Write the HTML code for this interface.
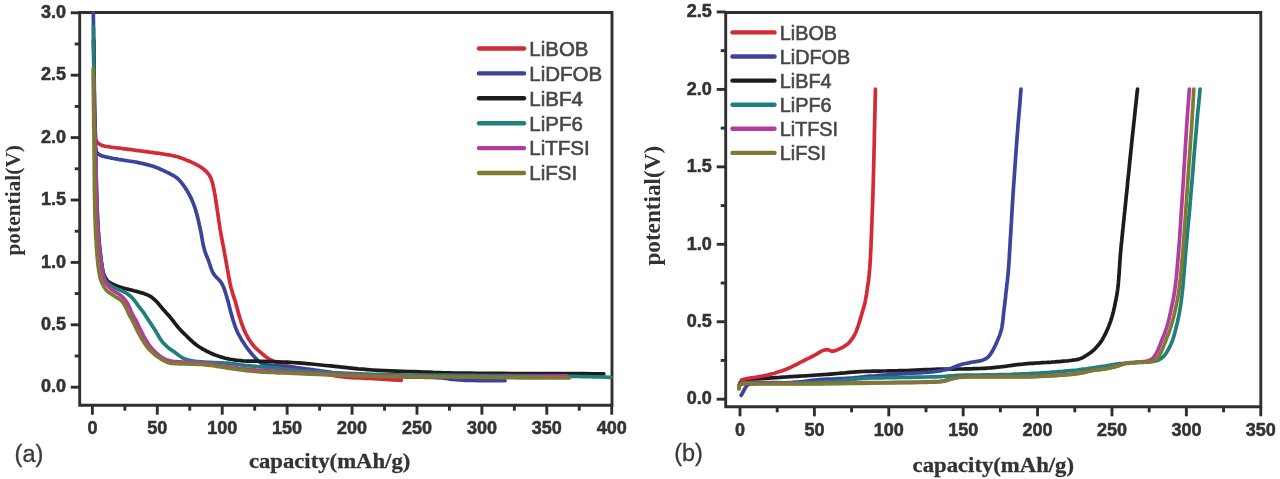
<!DOCTYPE html>
<html><head><meta charset="utf-8"><title>potential vs capacity</title>
<style>html,body{margin:0;padding:0;background:#fff;width:1280px;height:479px;overflow:hidden}svg{display:block;filter:blur(0.6px)}</style>
</head><body>
<svg width="1280" height="479" viewBox="0 0 1280 479">
<rect width="1280" height="479" fill="#fff"/>
<g stroke="#2f2f2f" stroke-width="2.9" fill="none">
<line x1="92.4" y1="405.2" x2="92.4" y2="414.7"/>
<line x1="157.31" y1="405.2" x2="157.31" y2="414.7"/>
<line x1="222.23" y1="405.2" x2="222.23" y2="414.7"/>
<line x1="287.14" y1="405.2" x2="287.14" y2="414.7"/>
<line x1="352.06" y1="405.2" x2="352.06" y2="414.7"/>
<line x1="416.98" y1="405.2" x2="416.98" y2="414.7"/>
<line x1="481.89" y1="405.2" x2="481.89" y2="414.7"/>
<line x1="546.81" y1="405.2" x2="546.81" y2="414.7"/>
<line x1="611.72" y1="405.2" x2="611.72" y2="414.7"/>
<line x1="124.86" y1="405.2" x2="124.86" y2="410.7"/>
<line x1="189.77" y1="405.2" x2="189.77" y2="410.7"/>
<line x1="254.69" y1="405.2" x2="254.69" y2="410.7"/>
<line x1="319.6" y1="405.2" x2="319.6" y2="410.7"/>
<line x1="384.52" y1="405.2" x2="384.52" y2="410.7"/>
<line x1="449.43" y1="405.2" x2="449.43" y2="410.7"/>
<line x1="514.35" y1="405.2" x2="514.35" y2="410.7"/>
<line x1="579.26" y1="405.2" x2="579.26" y2="410.7"/>
<line x1="70.7" y1="387.2" x2="79.7" y2="387.2"/>
<line x1="70.7" y1="324.8" x2="79.7" y2="324.8"/>
<line x1="70.7" y1="262.4" x2="79.7" y2="262.4"/>
<line x1="70.7" y1="200.0" x2="79.7" y2="200.0"/>
<line x1="70.7" y1="137.6" x2="79.7" y2="137.6"/>
<line x1="70.7" y1="75.2" x2="79.7" y2="75.2"/>
<line x1="70.7" y1="12.8" x2="79.7" y2="12.8"/>
<line x1="74.7" y1="356.0" x2="79.7" y2="356.0"/>
<line x1="74.7" y1="293.6" x2="79.7" y2="293.6"/>
<line x1="74.7" y1="231.2" x2="79.7" y2="231.2"/>
<line x1="74.7" y1="168.8" x2="79.7" y2="168.8"/>
<line x1="74.7" y1="106.4" x2="79.7" y2="106.4"/>
<line x1="74.7" y1="44.0" x2="79.7" y2="44.0"/>
<path d="M79.7,12.5 L612,12.5 L612,405.2 L79.7,405.2 Z" fill="none" stroke-linejoin="miter"/>
</g>
<g fill="none" stroke-width="3.7" stroke-linecap="round" stroke-linejoin="round">
<path stroke="#d42a35" d="M93.6,40.0 L93.7,47.6 L93.8,55.4 L93.8,63.3 L93.9,71.2 L94.0,78.9 L94.1,86.3 L94.2,93.4 L94.3,100.0 L94.4,104.6 L94.5,109.2 L94.6,113.6 L94.7,117.9 L94.8,121.9 L94.9,125.6 L95.1,129.0 L95.3,132.0 L95.4,133.4 L95.5,134.7 L95.5,136.0 L95.6,137.1 L95.7,138.2 L95.9,139.2 L96.1,140.1 L96.5,141.0 L96.9,141.7 L97.3,142.3 L97.8,142.8 L98.4,143.3 L99.0,143.8 L99.6,144.2 L100.3,144.6 L101.0,145.0 L101.9,145.4 L103.0,145.7 L104.1,146.0 L105.2,146.3 L106.4,146.5 L107.6,146.6 L108.8,146.8 L110.0,147.0 L111.2,147.2 L112.4,147.4 L113.6,147.5 L114.8,147.6 L116.0,147.8 L117.3,147.9 L118.6,148.0 L120.0,148.2 L122.0,148.5 L124.2,148.8 L126.5,149.1 L128.8,149.4 L131.2,149.7 L133.6,150.0 L136.1,150.4 L138.5,150.7 L141.1,151.0 L143.8,151.4 L146.6,151.7 L149.3,152.1 L152.1,152.4 L154.8,152.8 L157.4,153.1 L160.0,153.5 L162.2,153.8 L164.4,154.2 L166.7,154.6 L168.8,154.9 L170.9,155.3 L172.9,155.7 L174.8,156.1 L176.5,156.5 L177.6,156.8 L178.5,157.1 L179.4,157.4 L180.3,157.6 L181.1,158.0 L181.9,158.3 L182.8,158.6 L183.8,159.0 L185.1,159.5 L186.5,160.1 L188.0,160.7 L189.5,161.3 L191.0,161.9 L192.5,162.6 L193.9,163.3 L195.3,164.0 L196.5,164.7 L197.8,165.3 L199.0,166.0 L200.2,166.8 L201.3,167.5 L202.4,168.3 L203.5,169.1 L204.5,169.9 L205.3,170.7 L206.2,171.5 L206.9,172.3 L207.7,173.1 L208.4,173.9 L209.0,174.8 L209.6,175.8 L210.2,176.8 L210.8,178.0 L211.3,179.3 L211.8,180.7 L212.2,182.1 L212.6,183.6 L213.0,185.1 L213.3,186.7 L213.7,188.3 L214.2,190.6 L214.6,193.0 L215.1,195.6 L215.5,198.2 L215.9,200.9 L216.3,203.6 L216.7,206.3 L217.1,209.0 L217.5,211.8 L218.0,214.7 L218.4,217.7 L218.8,220.6 L219.3,223.5 L219.7,226.4 L220.1,229.3 L220.6,232.0 L221.0,234.4 L221.4,236.7 L221.9,239.0 L222.3,241.2 L222.7,243.4 L223.2,245.6 L223.6,247.8 L224.0,250.0 L224.4,252.0 L224.7,254.0 L225.1,256.0 L225.4,257.9 L225.8,259.9 L226.1,261.9 L226.5,263.9 L226.9,266.0 L227.3,268.5 L227.8,271.0 L228.2,273.7 L228.7,276.3 L229.2,279.0 L229.7,281.6 L230.2,284.2 L230.8,286.7 L231.4,288.9 L232.0,291.0 L232.6,293.1 L233.2,295.1 L233.9,297.2 L234.5,299.2 L235.2,301.2 L235.8,303.3 L236.4,305.4 L237.0,307.5 L237.5,309.6 L238.1,311.8 L238.7,313.9 L239.2,315.9 L239.9,318.0 L240.5,320.0 L241.1,321.8 L241.7,323.7 L242.4,325.5 L243.1,327.2 L243.7,329.0 L244.5,330.7 L245.2,332.4 L246.0,334.0 L246.8,335.5 L247.6,336.9 L248.4,338.4 L249.3,339.8 L250.1,341.1 L251.1,342.5 L252.0,343.8 L253.0,345.0 L254.0,346.2 L255.0,347.3 L256.1,348.3 L257.2,349.4 L258.3,350.4 L259.5,351.4 L260.6,352.4 L261.7,353.3 L262.7,354.2 L263.7,355.0 L264.6,355.8 L265.6,356.6 L266.6,357.4 L267.7,358.1 L268.8,358.8 L270.0,359.5 L271.6,360.3 L273.4,361.1 L275.2,361.8 L277.2,362.5 L279.1,363.2 L281.1,363.8 L283.1,364.4 L285.0,365.0 L286.8,365.5 L288.6,366.0 L290.3,366.4 L292.0,366.8 L293.8,367.2 L295.7,367.6 L297.8,368.0 L300.0,368.5 L304.1,369.4 L308.8,370.4 L313.8,371.6 L319.1,372.7 L324.5,373.8 L329.9,374.9 L335.1,375.8 L340.0,376.5 L343.9,377.0 L347.8,377.3 L351.5,377.6 L355.2,377.8 L358.9,378.0 L362.5,378.1 L366.2,378.3 L370.0,378.5 L373.9,378.7 L377.8,379.0 L381.7,379.2 L385.6,379.4 L389.5,379.6 L393.5,379.9 L397.4,380.1 L401.3,380.3"/>
<path stroke="#3a449c" d="M93.3,12.8 L93.4,21.2 L93.5,29.7 L93.6,38.2 L93.7,46.6 L93.9,55.1 L94.0,63.5 L94.1,71.8 L94.2,80.0 L94.3,88.0 L94.4,96.3 L94.4,104.8 L94.5,113.1 L94.6,121.0 L94.8,128.3 L94.9,134.7 L95.2,140.0 L95.3,142.0 L95.4,143.9 L95.4,145.6 L95.5,147.1 L95.6,148.6 L95.8,149.8 L96.1,151.0 L96.5,152.0 L96.8,152.5 L97.2,153.0 L97.6,153.4 L98.0,153.8 L98.4,154.1 L98.9,154.4 L99.4,154.7 L100.0,155.0 L101.0,155.5 L102.1,155.9 L103.3,156.2 L104.6,156.6 L106.0,156.9 L107.4,157.2 L108.7,157.5 L110.0,157.8 L111.2,158.1 L112.4,158.3 L113.6,158.5 L114.8,158.7 L116.0,158.9 L117.3,159.1 L118.6,159.4 L120.0,159.6 L122.0,159.9 L124.3,160.3 L126.6,160.6 L129.0,161.0 L131.4,161.3 L133.8,161.7 L136.2,162.1 L138.5,162.6 L140.6,163.1 L142.8,163.5 L144.9,164.1 L147.0,164.6 L149.0,165.1 L151.1,165.7 L153.1,166.3 L155.0,167.0 L156.7,167.6 L158.4,168.3 L160.0,169.0 L161.6,169.7 L163.2,170.4 L164.7,171.1 L166.2,171.9 L167.7,172.6 L169.0,173.2 L170.2,173.9 L171.4,174.5 L172.6,175.1 L173.8,175.8 L174.9,176.5 L176.0,177.2 L177.0,178.0 L178.0,178.9 L178.9,179.8 L179.8,180.7 L180.7,181.7 L181.6,182.8 L182.4,183.8 L183.2,184.9 L184.0,186.0 L184.8,187.2 L185.6,188.4 L186.4,189.6 L187.2,190.8 L187.9,192.1 L188.6,193.4 L189.3,194.7 L190.0,196.0 L190.7,197.4 L191.4,198.8 L192.0,200.2 L192.6,201.7 L193.3,203.2 L193.8,204.7 L194.4,206.3 L195.0,208.0 L195.7,210.2 L196.3,212.5 L197.0,214.8 L197.6,217.3 L198.2,219.8 L198.8,222.3 L199.3,224.9 L199.9,227.4 L200.5,230.2 L201.1,233.1 L201.6,236.2 L202.2,239.2 L202.7,242.1 L203.3,245.0 L203.9,247.6 L204.5,250.0 L204.9,251.4 L205.4,252.8 L205.9,254.0 L206.3,255.2 L206.8,256.3 L207.3,257.5 L207.8,258.7 L208.3,260.0 L208.9,261.6 L209.4,263.3 L210.0,265.0 L210.5,266.7 L211.1,268.4 L211.8,270.1 L212.5,271.8 L213.3,273.3 L214.2,274.7 L215.2,275.9 L216.3,277.1 L217.5,278.3 L218.7,279.5 L219.8,280.7 L220.8,281.9 L221.7,283.3 L222.5,284.8 L223.2,286.4 L223.9,288.0 L224.5,289.6 L225.0,291.3 L225.6,293.0 L226.1,294.8 L226.7,296.7 L227.4,299.2 L228.2,301.9 L228.9,304.7 L229.6,307.5 L230.3,310.4 L231.1,313.2 L231.8,315.8 L232.5,318.3 L233.0,320.1 L233.6,321.7 L234.1,323.3 L234.6,324.9 L235.1,326.4 L235.7,327.9 L236.3,329.4 L237.0,331.0 L237.8,332.8 L238.7,334.5 L239.7,336.3 L240.7,338.1 L241.7,339.9 L242.8,341.6 L243.9,343.3 L245.0,345.0 L246.2,346.7 L247.4,348.4 L248.7,350.0 L249.9,351.7 L251.2,353.3 L252.5,354.8 L253.8,356.2 L255.0,357.5 L255.8,358.4 L256.6,359.2 L257.3,360.0 L258.1,360.8 L258.9,361.5 L259.7,362.1 L260.6,362.7 L261.7,363.3 L263.5,364.0 L265.6,364.5 L267.8,364.9 L270.2,365.2 L272.7,365.5 L275.2,365.7 L277.7,365.9 L280.0,366.2 L282.2,366.5 L284.5,366.7 L286.7,366.9 L289.0,367.1 L291.2,367.2 L293.3,367.4 L295.5,367.6 L297.5,367.8 L299.2,368.0 L300.7,368.2 L302.3,368.4 L303.8,368.6 L305.3,368.8 L306.8,369.0 L308.4,369.2 L310.0,369.4 L311.8,369.6 L313.6,369.9 L315.4,370.2 L317.3,370.4 L319.2,370.7 L321.1,371.0 L323.0,371.2 L325.0,371.5 L327.3,371.8 L329.6,372.1 L331.8,372.5 L334.2,372.8 L336.6,373.1 L339.2,373.4 L342.0,373.7 L345.0,374.0 L350.6,374.4 L357.0,374.9 L364.0,375.2 L371.3,375.6 L378.8,376.0 L386.2,376.3 L393.4,376.5 L400.0,376.8 L405.5,377.0 L411.0,377.1 L416.5,377.2 L421.9,377.2 L427.0,377.3 L431.8,377.4 L436.2,377.6 L440.0,377.8 L441.8,378.0 L443.5,378.1 L445.0,378.3 L446.4,378.5 L447.8,378.7 L449.1,378.9 L450.5,379.1 L452.0,379.3 L453.5,379.5 L455.0,379.6 L456.5,379.7 L458.0,379.9 L459.6,380.0 L461.2,380.1 L463.0,380.2 L465.0,380.3 L469.0,380.4 L473.5,380.5 L478.4,380.6 L483.6,380.6 L489.0,380.6 L494.5,380.6 L499.9,380.7 L505.0,380.7"/>
<path stroke="#1c1c1c" d="M93.6,40.0 L93.7,50.2 L93.8,60.6 L93.9,71.2 L94.0,81.7 L94.2,92.0 L94.3,101.9 L94.4,111.3 L94.6,120.0 L94.7,125.6 L94.9,130.9 L95.0,135.8 L95.2,140.6 L95.3,145.3 L95.5,150.0 L95.6,154.9 L95.8,160.0 L96.0,166.1 L96.1,172.4 L96.3,178.9 L96.4,185.4 L96.6,191.9 L96.8,198.3 L97.0,204.3 L97.2,210.0 L97.4,214.2 L97.6,218.2 L97.8,222.1 L98.0,225.9 L98.2,229.5 L98.5,233.1 L98.7,236.6 L99.0,240.0 L99.2,242.7 L99.5,245.4 L99.7,248.0 L100.0,250.5 L100.3,253.0 L100.6,255.4 L100.9,257.7 L101.2,260.0 L101.4,261.8 L101.7,263.5 L101.9,265.2 L102.1,266.9 L102.4,268.5 L102.7,270.1 L103.1,271.6 L103.5,273.0 L103.9,274.2 L104.3,275.3 L104.8,276.4 L105.3,277.5 L105.8,278.5 L106.3,279.4 L106.9,280.3 L107.5,281.0 L108.0,281.5 L108.5,281.9 L109.1,282.3 L109.6,282.6 L110.2,282.9 L110.8,283.2 L111.4,283.5 L112.0,283.8 L112.7,284.2 L113.5,284.5 L114.3,284.9 L115.1,285.2 L115.9,285.6 L116.7,285.9 L117.5,286.2 L118.3,286.5 L119.1,286.8 L119.9,287.1 L120.7,287.3 L121.5,287.5 L122.4,287.8 L123.2,288.0 L124.1,288.3 L125.0,288.5 L126.1,288.8 L127.3,289.1 L128.6,289.4 L129.8,289.7 L131.1,290.0 L132.4,290.3 L133.7,290.7 L135.0,291.0 L136.4,291.4 L137.8,291.8 L139.3,292.2 L140.8,292.6 L142.2,293.0 L143.6,293.4 L144.8,293.9 L146.0,294.3 L146.7,294.6 L147.4,294.9 L148.0,295.2 L148.6,295.4 L149.2,295.7 L149.8,296.1 L150.4,296.4 L151.0,296.8 L151.7,297.3 L152.4,297.8 L153.1,298.4 L153.8,298.9 L154.5,299.6 L155.2,300.2 L155.8,300.8 L156.5,301.5 L157.2,302.2 L157.9,303.0 L158.5,303.8 L159.2,304.6 L159.9,305.4 L160.6,306.3 L161.3,307.1 L162.0,308.0 L162.9,309.1 L163.9,310.1 L164.9,311.2 L165.9,312.4 L166.9,313.5 L168.0,314.7 L169.0,315.8 L170.0,317.0 L171.0,318.3 L172.1,319.6 L173.1,321.0 L174.2,322.3 L175.2,323.7 L176.3,325.0 L177.3,326.3 L178.3,327.5 L179.1,328.5 L179.9,329.3 L180.7,330.2 L181.5,331.0 L182.3,331.9 L183.2,332.7 L184.1,333.6 L185.0,334.5 L186.3,335.7 L187.6,337.1 L189.0,338.4 L190.5,339.8 L192.0,341.2 L193.5,342.6 L195.0,343.8 L196.5,345.0 L197.9,346.0 L199.4,347.0 L200.9,347.9 L202.4,348.8 L204.0,349.7 L205.5,350.5 L206.9,351.3 L208.4,352.0 L209.6,352.6 L210.8,353.2 L212.0,353.7 L213.2,354.2 L214.3,354.7 L215.5,355.1 L216.7,355.6 L218.0,356.0 L219.4,356.5 L220.9,356.9 L222.3,357.4 L223.8,357.8 L225.3,358.2 L226.9,358.5 L228.4,358.9 L230.0,359.2 L231.8,359.5 L233.5,359.8 L235.4,360.1 L237.2,360.3 L239.1,360.5 L241.0,360.7 L242.8,360.9 L244.7,361.0 L246.5,361.1 L248.3,361.2 L250.1,361.2 L251.9,361.2 L253.8,361.2 L255.7,361.2 L257.8,361.2 L260.0,361.3 L263.9,361.4 L268.2,361.5 L272.9,361.7 L277.7,361.8 L282.7,362.0 L287.7,362.2 L292.7,362.5 L297.5,362.8 L302.2,363.1 L306.9,363.6 L311.6,364.0 L316.3,364.5 L320.9,365.0 L325.6,365.5 L330.3,365.9 L335.0,366.4 L339.7,366.9 L344.3,367.3 L348.9,367.8 L353.5,368.3 L358.1,368.8 L362.8,369.2 L367.6,369.6 L372.5,370.0 L378.2,370.4 L384.1,370.7 L390.2,370.9 L396.3,371.1 L402.5,371.3 L408.5,371.5 L414.4,371.7 L420.0,371.9 L424.6,372.1 L428.9,372.2 L433.0,372.4 L437.2,372.5 L441.3,372.7 L445.6,372.8 L450.1,372.9 L455.0,373.0 L462.1,373.1 L469.7,373.2 L477.5,373.3 L485.7,373.3 L494.1,373.4 L502.7,373.4 L511.3,373.5 L520.0,373.5 L530.0,373.6 L540.2,373.6 L550.6,373.6 L561.2,373.7 L571.9,373.7 L582.6,373.7 L593.3,373.8 L603.8,373.8"/>
<path stroke="#1f7f7a" d="M93.5,27.0 L93.6,38.9 L93.7,51.2 L93.8,63.6 L93.9,75.9 L94.1,88.0 L94.2,99.5 L94.3,110.2 L94.5,120.0 L94.6,125.8 L94.8,131.1 L94.9,136.0 L95.1,140.8 L95.2,145.4 L95.4,150.1 L95.5,154.9 L95.7,160.0 L95.9,166.1 L96.0,172.4 L96.1,178.9 L96.3,185.4 L96.4,191.9 L96.6,198.3 L96.8,204.3 L97.0,210.0 L97.2,214.2 L97.4,218.2 L97.6,222.1 L97.8,225.9 L98.0,229.5 L98.3,233.1 L98.5,236.6 L98.8,240.0 L99.0,242.7 L99.3,245.4 L99.6,248.0 L99.8,250.5 L100.1,253.0 L100.4,255.4 L100.7,257.7 L101.0,260.0 L101.2,261.8 L101.5,263.5 L101.7,265.2 L102.0,266.9 L102.3,268.5 L102.5,270.0 L102.9,271.5 L103.2,273.0 L103.5,274.2 L103.7,275.3 L104.0,276.5 L104.3,277.5 L104.6,278.6 L105.0,279.6 L105.4,280.6 L106.0,281.5 L106.8,282.4 L107.7,283.3 L108.6,284.1 L109.7,284.9 L110.8,285.6 L111.9,286.3 L113.0,286.9 L114.0,287.5 L114.8,287.9 L115.5,288.3 L116.3,288.6 L117.0,288.9 L117.8,289.1 L118.5,289.4 L119.3,289.7 L120.0,290.0 L120.8,290.4 L121.5,290.7 L122.3,291.1 L123.1,291.5 L123.9,291.8 L124.6,292.2 L125.3,292.6 L126.0,293.0 L126.6,293.3 L127.1,293.7 L127.6,294.0 L128.1,294.3 L128.6,294.7 L129.1,295.1 L129.5,295.4 L130.0,295.8 L130.4,296.2 L130.9,296.6 L131.3,297.0 L131.7,297.4 L132.1,297.8 L132.5,298.2 L133.0,298.7 L133.4,299.2 L134.0,299.9 L134.6,300.7 L135.2,301.5 L135.9,302.4 L136.5,303.3 L137.1,304.2 L137.8,305.0 L138.4,305.9 L139.0,306.7 L139.7,307.5 L140.3,308.4 L141.0,309.2 L141.6,310.0 L142.2,310.8 L142.9,311.6 L143.5,312.5 L144.1,313.4 L144.7,314.3 L145.3,315.2 L145.9,316.1 L146.5,317.1 L147.1,318.0 L147.8,319.0 L148.4,320.0 L149.2,321.2 L150.0,322.4 L150.8,323.6 L151.7,324.9 L152.5,326.2 L153.4,327.5 L154.2,328.7 L155.0,330.0 L155.8,331.3 L156.5,332.6 L157.3,333.9 L158.1,335.2 L158.8,336.5 L159.5,337.8 L160.3,338.9 L161.0,340.0 L161.5,340.7 L162.1,341.4 L162.6,342.1 L163.1,342.7 L163.7,343.3 L164.2,343.9 L164.7,344.4 L165.3,345.0 L165.9,345.5 L166.4,346.1 L167.0,346.6 L167.6,347.1 L168.2,347.6 L168.8,348.1 L169.4,348.5 L170.0,349.0 L170.6,349.4 L171.2,349.8 L171.7,350.2 L172.3,350.6 L172.9,351.0 L173.5,351.4 L174.1,351.8 L174.8,352.3 L175.7,353.0 L176.7,353.7 L177.7,354.5 L178.7,355.2 L179.7,356.0 L180.8,356.7 L181.8,357.4 L182.9,358.0 L183.9,358.5 L184.8,358.9 L185.8,359.2 L186.8,359.5 L187.8,359.8 L188.8,360.1 L189.9,360.4 L190.9,360.6 L192.0,360.8 L193.1,361.0 L194.2,361.2 L195.3,361.3 L196.4,361.5 L197.5,361.6 L198.7,361.7 L200.0,361.8 L201.7,361.9 L203.5,362.1 L205.3,362.2 L207.3,362.3 L209.2,362.3 L211.2,362.4 L213.1,362.5 L215.0,362.6 L216.9,362.7 L218.8,362.8 L220.6,362.9 L222.5,362.9 L224.4,363.0 L226.3,363.1 L228.1,363.2 L230.0,363.4 L231.8,363.6 L233.5,363.8 L235.2,364.0 L237.0,364.3 L238.7,364.5 L240.6,364.8 L242.6,365.0 L244.7,365.3 L248.5,365.7 L252.7,366.1 L257.3,366.5 L262.0,366.9 L266.8,367.3 L271.5,367.7 L276.0,368.1 L280.0,368.5 L282.7,368.8 L285.3,369.0 L287.7,369.3 L290.1,369.5 L292.5,369.8 L294.8,370.0 L297.3,370.3 L300.0,370.5 L303.4,370.8 L306.9,371.0 L310.5,371.3 L314.1,371.6 L317.9,371.8 L321.8,372.0 L325.8,372.3 L330.0,372.5 L335.6,372.8 L341.4,373.1 L347.4,373.4 L353.6,373.7 L359.9,373.9 L366.5,374.2 L373.2,374.4 L380.0,374.6 L388.7,374.8 L397.8,374.9 L407.2,375.0 L416.9,375.1 L426.6,375.1 L436.3,375.2 L445.8,375.2 L455.0,375.3 L463.4,375.4 L471.8,375.4 L480.2,375.5 L488.5,375.6 L496.7,375.6 L504.6,375.7 L512.4,375.7 L520.0,375.8 L526.1,375.8 L532.1,375.9 L537.9,375.9 L543.5,376.0 L549.1,376.0 L554.7,376.1 L560.3,376.1 L566.0,376.2 L571.6,376.3 L577.3,376.4 L582.9,376.6 L588.5,376.7 L594.1,376.9 L599.8,377.0 L605.4,377.2 L611.0,377.3"/>
<path stroke="#b43c9e" d="M93.6,78.0 L93.7,83.3 L93.8,88.5 L93.9,93.8 L94.0,99.1 L94.1,104.3 L94.2,109.6 L94.3,114.8 L94.4,120.0 L94.5,125.0 L94.7,130.0 L94.8,134.9 L94.9,139.8 L95.1,144.7 L95.2,149.7 L95.4,154.8 L95.5,160.0 L95.7,166.1 L95.8,172.4 L95.9,178.9 L96.1,185.4 L96.2,191.9 L96.4,198.3 L96.6,204.3 L96.8,210.0 L97.0,214.2 L97.2,218.2 L97.4,222.1 L97.6,225.9 L97.8,229.5 L98.0,233.1 L98.2,236.6 L98.5,240.0 L98.7,242.7 L99.0,245.4 L99.2,248.0 L99.5,250.5 L99.8,253.0 L100.0,255.4 L100.3,257.7 L100.6,260.0 L100.8,261.8 L101.1,263.5 L101.3,265.2 L101.5,266.9 L101.8,268.5 L102.0,270.0 L102.3,271.6 L102.6,273.0 L102.8,274.1 L103.0,275.2 L103.2,276.2 L103.5,277.2 L103.7,278.1 L104.0,279.1 L104.4,280.0 L104.8,281.0 L105.4,282.1 L106.1,283.2 L106.9,284.4 L107.7,285.5 L108.6,286.6 L109.6,287.6 L110.5,288.6 L111.5,289.5 L112.5,290.3 L113.5,291.0 L114.6,291.6 L115.7,292.3 L116.8,292.9 L117.8,293.5 L118.8,294.1 L119.8,294.8 L120.6,295.5 L121.4,296.2 L122.2,296.9 L122.9,297.6 L123.6,298.3 L124.3,299.0 L125.0,299.8 L125.6,300.6 L126.2,301.4 L126.7,302.3 L127.3,303.1 L127.8,304.0 L128.2,304.9 L128.7,305.8 L129.2,306.7 L129.6,307.6 L130.0,308.5 L130.4,309.5 L130.8,310.4 L131.2,311.4 L131.6,312.3 L132.0,313.3 L132.4,314.2 L132.8,315.0 L133.2,315.7 L133.5,316.3 L133.9,316.9 L134.3,317.5 L134.6,318.0 L135.0,318.6 L135.4,319.3 L135.8,320.0 L136.4,321.1 L136.9,322.2 L137.5,323.5 L138.1,324.8 L138.7,326.1 L139.3,327.4 L140.0,328.7 L140.6,330.0 L141.2,331.3 L141.9,332.5 L142.6,333.8 L143.2,335.1 L143.9,336.4 L144.6,337.6 L145.3,338.8 L146.0,340.0 L146.7,341.1 L147.3,342.1 L148.0,343.1 L148.6,344.2 L149.3,345.2 L150.0,346.1 L150.8,347.1 L151.5,348.0 L152.3,348.9 L153.0,349.8 L153.8,350.6 L154.6,351.4 L155.5,352.2 L156.3,353.0 L157.1,353.8 L158.0,354.5 L158.8,355.2 L159.7,355.8 L160.5,356.5 L161.4,357.1 L162.3,357.7 L163.2,358.2 L164.1,358.7 L165.0,359.2 L165.8,359.6 L166.7,359.9 L167.5,360.2 L168.4,360.4 L169.3,360.6 L170.1,360.8 L171.1,361.0 L172.0,361.2 L173.1,361.4 L174.3,361.5 L175.5,361.6 L176.7,361.7 L177.9,361.8 L179.2,361.8 L180.6,361.9 L182.0,362.0 L184.1,362.1 L186.4,362.2 L188.8,362.3 L191.3,362.4 L193.9,362.5 L196.5,362.6 L199.1,362.8 L201.7,363.0 L204.7,363.3 L207.8,363.7 L211.0,364.2 L214.3,364.7 L217.5,365.2 L220.7,365.7 L223.7,366.2 L226.7,366.6 L229.1,366.9 L231.4,367.2 L233.7,367.5 L236.0,367.8 L238.2,368.1 L240.4,368.3 L242.5,368.6 L244.7,368.8 L246.6,369.0 L248.4,369.2 L250.2,369.4 L252.0,369.5 L253.8,369.7 L255.7,369.9 L257.7,370.0 L260.0,370.2 L264.0,370.5 L268.3,370.8 L273.0,371.1 L278.0,371.3 L283.2,371.6 L288.6,371.9 L294.2,372.2 L300.0,372.5 L308.7,372.9 L318.1,373.4 L328.1,373.8 L338.4,374.3 L349.0,374.7 L359.5,375.2 L369.9,375.5 L380.0,375.8 L389.5,376.0 L399.0,376.2 L408.5,376.3 L418.0,376.4 L427.4,376.4 L436.7,376.5 L445.9,376.5 L455.0,376.6 L463.6,376.7 L472.3,376.7 L481.1,376.8 L489.7,376.9 L498.1,376.9 L506.0,376.9 L513.4,376.9 L520.0,376.9 L523.7,376.9 L527.1,376.8 L530.3,376.7 L533.4,376.6 L536.3,376.5 L539.2,376.5 L542.1,376.4 L545.0,376.3 L547.7,376.2 L550.4,376.2 L553.0,376.1 L555.6,376.1 L558.2,376.0 L560.8,376.0 L563.4,375.9 L566.0,375.9"/>
<path stroke="#7d7a32" d="M93.2,68.0 L93.2,73.2 L93.3,78.4 L93.3,83.6 L93.4,88.8 L93.4,94.0 L93.5,99.2 L93.5,104.6 L93.6,110.0 L93.7,116.0 L93.7,122.2 L93.8,128.4 L93.9,134.7 L94.0,141.1 L94.0,147.4 L94.1,153.7 L94.2,160.0 L94.3,166.3 L94.3,172.8 L94.4,179.3 L94.4,185.8 L94.5,192.2 L94.6,198.4 L94.7,204.4 L94.8,210.0 L94.9,214.2 L95.0,218.2 L95.2,222.1 L95.3,225.9 L95.5,229.5 L95.6,233.1 L95.8,236.6 L96.0,240.0 L96.2,242.7 L96.3,245.4 L96.5,248.0 L96.7,250.6 L96.9,253.1 L97.1,255.5 L97.3,257.8 L97.5,260.0 L97.7,261.7 L97.8,263.3 L98.0,264.9 L98.2,266.4 L98.4,267.8 L98.6,269.3 L98.8,270.7 L99.0,272.0 L99.2,273.0 L99.4,274.1 L99.5,275.1 L99.7,276.0 L99.9,277.0 L100.1,277.8 L100.4,278.7 L100.6,279.5 L100.8,280.1 L101.0,280.6 L101.2,281.1 L101.3,281.5 L101.6,282.0 L101.8,282.5 L102.0,283.0 L102.3,283.5 L102.7,284.3 L103.2,285.2 L103.6,286.1 L104.2,287.0 L104.7,287.9 L105.3,288.8 L106.0,289.7 L106.7,290.5 L107.6,291.3 L108.5,292.2 L109.6,292.9 L110.7,293.7 L111.8,294.4 L112.9,295.1 L114.0,295.8 L115.0,296.5 L115.9,297.1 L116.8,297.6 L117.7,298.1 L118.5,298.7 L119.4,299.2 L120.2,299.7 L121.0,300.3 L121.7,301.0 L122.3,301.7 L122.9,302.5 L123.5,303.3 L124.0,304.1 L124.5,305.0 L125.0,305.9 L125.4,306.7 L125.9,307.6 L126.4,308.5 L126.8,309.4 L127.2,310.4 L127.6,311.4 L128.0,312.3 L128.4,313.2 L128.8,314.1 L129.2,315.0 L129.6,315.7 L129.9,316.3 L130.3,316.9 L130.7,317.5 L131.0,318.0 L131.4,318.6 L131.8,319.3 L132.2,320.0 L132.8,321.1 L133.3,322.3 L133.9,323.5 L134.5,324.8 L135.1,326.1 L135.7,327.4 L136.4,328.7 L137.0,330.0 L137.7,331.3 L138.3,332.5 L139.0,333.8 L139.7,335.1 L140.4,336.4 L141.1,337.6 L141.8,338.8 L142.5,340.0 L143.2,341.1 L143.8,342.1 L144.5,343.1 L145.1,344.1 L145.8,345.1 L146.5,346.1 L147.2,347.1 L148.0,348.0 L148.8,348.9 L149.6,349.8 L150.5,350.7 L151.4,351.6 L152.3,352.4 L153.2,353.2 L154.1,354.0 L155.0,354.8 L155.8,355.5 L156.7,356.1 L157.6,356.8 L158.4,357.4 L159.3,358.0 L160.2,358.5 L161.1,359.1 L162.0,359.6 L162.9,360.1 L163.8,360.6 L164.8,361.1 L165.7,361.5 L166.7,362.0 L167.7,362.4 L168.7,362.7 L169.7,363.0 L170.9,363.3 L172.1,363.4 L173.3,363.5 L174.5,363.6 L175.8,363.7 L177.1,363.7 L178.5,363.7 L180.0,363.8 L182.2,363.9 L184.6,364.0 L187.1,364.0 L189.8,364.1 L192.4,364.1 L195.1,364.2 L197.6,364.3 L200.0,364.4 L202.0,364.5 L203.9,364.7 L205.8,364.9 L207.6,365.1 L209.5,365.3 L211.3,365.5 L213.1,365.8 L215.0,366.0 L216.9,366.3 L218.8,366.6 L220.6,366.9 L222.5,367.2 L224.4,367.5 L226.3,367.8 L228.1,368.1 L230.0,368.4 L231.8,368.7 L233.7,368.9 L235.5,369.2 L237.3,369.5 L239.2,369.7 L241.0,370.0 L242.8,370.2 L244.7,370.4 L246.5,370.6 L248.3,370.8 L250.1,371.0 L251.9,371.2 L253.7,371.3 L255.7,371.5 L257.7,371.6 L260.0,371.8 L264.0,372.1 L268.3,372.3 L273.0,372.5 L278.0,372.8 L283.2,373.0 L288.6,373.2 L294.2,373.5 L300.0,373.7 L308.7,374.1 L318.1,374.4 L328.1,374.8 L338.4,375.2 L349.0,375.5 L359.5,375.9 L369.9,376.2 L380.0,376.4 L389.5,376.6 L399.0,376.7 L408.5,376.8 L418.0,376.8 L427.4,376.8 L436.7,376.9 L445.9,376.9 L455.0,377.0 L463.4,377.1 L471.8,377.2 L480.1,377.3 L488.3,377.4 L496.5,377.5 L504.5,377.6 L512.3,377.7 L520.0,377.8 L526.5,377.8 L532.8,377.9 L539.0,377.9 L545.1,377.9 L551.2,377.9 L557.2,378.0 L563.3,378.0 L569.4,378.0"/>
</g>
<g font-family="Liberation Sans, Arial, sans-serif" font-weight="bold" font-size="18" fill="#333" stroke="#333" stroke-width="0.55">
<text x="92.4" y="433.8" text-anchor="middle">0</text>
<text x="157.3" y="433.8" text-anchor="middle">50</text>
<text x="222.2" y="433.8" text-anchor="middle">100</text>
<text x="287.1" y="433.8" text-anchor="middle">150</text>
<text x="352.1" y="433.8" text-anchor="middle">200</text>
<text x="417.0" y="433.8" text-anchor="middle">250</text>
<text x="481.9" y="433.8" text-anchor="middle">300</text>
<text x="546.8" y="433.8" text-anchor="middle">350</text>
<text x="611.7" y="433.8" text-anchor="middle">400</text>
<text x="66" y="392.4" text-anchor="end">0.0</text>
<text x="66" y="330.0" text-anchor="end">0.5</text>
<text x="66" y="267.6" text-anchor="end">1.0</text>
<text x="66" y="205.2" text-anchor="end">1.5</text>
<text x="66" y="142.8" text-anchor="end">2.0</text>
<text x="66" y="80.4" text-anchor="end">2.5</text>
<text x="66" y="18.0" text-anchor="end">3.0</text>
</g>
<g stroke="#2f2f2f" stroke-width="2.9" fill="none">
<line x1="740.0" y1="406.8" x2="740.0" y2="416.3"/>
<line x1="814.39" y1="406.8" x2="814.39" y2="416.3"/>
<line x1="888.79" y1="406.8" x2="888.79" y2="416.3"/>
<line x1="963.18" y1="406.8" x2="963.18" y2="416.3"/>
<line x1="1037.58" y1="406.8" x2="1037.58" y2="416.3"/>
<line x1="1111.97" y1="406.8" x2="1111.97" y2="416.3"/>
<line x1="1186.37" y1="406.8" x2="1186.37" y2="416.3"/>
<line x1="1260.76" y1="406.8" x2="1260.76" y2="416.3"/>
<line x1="777.2" y1="406.8" x2="777.2" y2="412.3"/>
<line x1="851.59" y1="406.8" x2="851.59" y2="412.3"/>
<line x1="925.99" y1="406.8" x2="925.99" y2="412.3"/>
<line x1="1000.38" y1="406.8" x2="1000.38" y2="412.3"/>
<line x1="1074.78" y1="406.8" x2="1074.78" y2="412.3"/>
<line x1="1149.17" y1="406.8" x2="1149.17" y2="412.3"/>
<line x1="1223.57" y1="406.8" x2="1223.57" y2="412.3"/>
<line x1="716.7" y1="399.2" x2="725.7" y2="399.2"/>
<line x1="716.7" y1="321.75" x2="725.7" y2="321.75"/>
<line x1="716.7" y1="244.3" x2="725.7" y2="244.3"/>
<line x1="716.7" y1="166.85" x2="725.7" y2="166.85"/>
<line x1="716.7" y1="89.4" x2="725.7" y2="89.4"/>
<line x1="716.7" y1="11.95" x2="725.7" y2="11.95"/>
<line x1="720.7" y1="360.47" x2="725.7" y2="360.47"/>
<line x1="720.7" y1="283.02" x2="725.7" y2="283.02"/>
<line x1="720.7" y1="205.57" x2="725.7" y2="205.57"/>
<line x1="720.7" y1="128.12" x2="725.7" y2="128.12"/>
<line x1="720.7" y1="50.68" x2="725.7" y2="50.68"/>
<path d="M725.7,12.5 L1260.8,12.5 L1260.8,406.8 L725.7,406.8 Z" fill="none" stroke-linejoin="miter"/>
</g>
<g fill="none" stroke-width="3.7" stroke-linecap="round" stroke-linejoin="round">
<path stroke="#1c1c1c" d="M739.2,387.0 L739.3,386.5 L739.3,386.0 L739.4,385.4 L739.4,384.9 L739.5,384.4 L739.6,383.9 L739.8,383.4 L740.0,383.0 L740.4,382.5 L740.9,382.1 L741.4,381.7 L742.0,381.4 L742.7,381.1 L743.4,380.8 L744.2,380.5 L745.0,380.2 L746.5,379.8 L748.2,379.5 L750.0,379.3 L752.0,379.2 L754.0,379.1 L756.0,379.0 L758.1,378.8 L760.0,378.7 L761.9,378.6 L763.7,378.4 L765.6,378.3 L767.5,378.2 L769.4,378.1 L771.2,377.9 L773.1,377.8 L775.0,377.7 L776.9,377.6 L778.7,377.5 L780.5,377.3 L782.4,377.2 L784.2,377.1 L786.1,377.0 L788.0,376.8 L790.0,376.7 L792.4,376.6 L794.8,376.4 L797.3,376.3 L799.8,376.1 L802.4,376.0 L804.9,375.8 L807.5,375.7 L810.0,375.5 L812.5,375.3 L814.9,375.2 L817.3,375.0 L819.7,374.8 L822.2,374.7 L824.7,374.5 L827.3,374.3 L830.0,374.1 L833.5,373.8 L837.2,373.5 L841.1,373.1 L845.0,372.8 L848.9,372.4 L852.8,372.1 L856.5,371.8 L860.0,371.6 L862.7,371.5 L865.3,371.4 L867.7,371.3 L870.2,371.3 L872.6,371.2 L875.0,371.2 L877.5,371.2 L880.0,371.1 L882.7,371.0 L885.4,371.0 L888.1,370.9 L890.8,370.9 L893.6,370.8 L896.5,370.8 L899.4,370.7 L902.5,370.6 L906.7,370.5 L911.1,370.3 L915.8,370.1 L920.6,369.9 L925.3,369.7 L930.0,369.5 L934.4,369.3 L938.5,369.2 L941.4,369.1 L944.3,369.1 L946.9,369.1 L949.6,369.1 L952.2,369.1 L954.7,369.1 L957.3,369.0 L960.0,369.0 L962.8,369.0 L965.6,368.9 L968.4,368.8 L971.3,368.8 L974.1,368.7 L976.9,368.6 L979.6,368.5 L982.3,368.4 L984.6,368.3 L986.8,368.1 L989.0,368.0 L991.2,367.8 L993.4,367.6 L995.6,367.4 L997.8,367.2 L1000.0,367.0 L1002.4,366.7 L1004.9,366.4 L1007.4,366.0 L1009.9,365.7 L1012.4,365.3 L1015.0,364.9 L1017.5,364.6 L1020.0,364.3 L1022.5,364.1 L1025.1,363.8 L1027.6,363.6 L1030.2,363.4 L1032.7,363.3 L1035.2,363.1 L1037.6,363.0 L1040.0,362.8 L1042.0,362.7 L1043.9,362.6 L1045.7,362.5 L1047.6,362.4 L1049.4,362.3 L1051.2,362.2 L1053.1,362.0 L1055.0,361.9 L1057.1,361.7 L1059.3,361.6 L1061.5,361.4 L1063.7,361.2 L1065.8,361.0 L1067.9,360.8 L1069.9,360.5 L1071.7,360.3 L1072.9,360.1 L1074.0,360.0 L1075.1,359.9 L1076.1,359.7 L1077.1,359.6 L1078.1,359.4 L1079.0,359.1 L1080.0,358.8 L1080.9,358.4 L1081.8,358.0 L1082.7,357.6 L1083.6,357.1 L1084.5,356.6 L1085.3,356.0 L1086.2,355.5 L1087.0,355.0 L1087.7,354.5 L1088.5,354.1 L1089.2,353.6 L1089.8,353.1 L1090.5,352.7 L1091.2,352.2 L1091.8,351.6 L1092.5,351.1 L1093.2,350.5 L1093.8,349.9 L1094.5,349.3 L1095.1,348.7 L1095.7,348.0 L1096.3,347.3 L1096.9,346.7 L1097.5,346.0 L1098.1,345.3 L1098.6,344.7 L1099.2,344.0 L1099.7,343.3 L1100.3,342.6 L1100.8,341.9 L1101.3,341.1 L1101.9,340.2 L1102.7,338.9 L1103.5,337.4 L1104.3,335.9 L1105.1,334.3 L1106.0,332.6 L1106.7,331.0 L1107.5,329.3 L1108.2,327.6 L1108.9,325.9 L1109.5,324.2 L1110.2,322.4 L1110.8,320.6 L1111.3,318.9 L1111.9,317.1 L1112.4,315.3 L1112.9,313.5 L1113.4,311.7 L1113.8,309.9 L1114.2,308.1 L1114.6,306.3 L1115.0,304.5 L1115.3,302.7 L1115.7,301.0 L1116.0,299.4 L1116.2,298.2 L1116.5,297.0 L1116.7,295.8 L1116.9,294.7 L1117.1,293.6 L1117.2,292.5 L1117.4,291.3 L1117.6,290.0 L1117.8,288.3 L1118.0,286.6 L1118.2,284.7 L1118.4,282.9 L1118.5,281.0 L1118.7,279.0 L1118.8,277.0 L1119.0,275.0 L1119.2,272.6 L1119.3,270.1 L1119.5,267.6 L1119.7,265.1 L1119.8,262.5 L1120.0,259.8 L1120.2,257.1 L1120.4,254.4 L1120.7,251.2 L1121.0,247.9 L1121.3,244.5 L1121.7,241.0 L1122.0,237.6 L1122.4,234.1 L1122.7,230.6 L1123.1,227.2 L1123.4,223.9 L1123.8,220.6 L1124.1,217.4 L1124.4,214.2 L1124.8,210.9 L1125.1,207.5 L1125.5,203.9 L1125.9,200.0 L1126.5,194.0 L1127.2,187.6 L1127.8,180.8 L1128.6,173.7 L1129.3,166.5 L1130.0,159.2 L1130.8,152.0 L1131.5,145.0 L1132.2,138.0 L1133.0,131.1 L1133.7,124.1 L1134.5,117.1 L1135.2,110.1 L1136.0,103.2 L1136.7,96.2 L1137.5,89.2"/>
<path stroke="#d42a35" d="M741.5,380.0 L742.2,379.8 L743.0,379.6 L743.7,379.4 L744.4,379.2 L745.2,379.0 L745.9,378.8 L746.7,378.7 L747.5,378.5 L748.5,378.3 L749.5,378.1 L750.6,378.0 L751.6,377.8 L752.7,377.7 L753.8,377.5 L754.9,377.4 L756.0,377.2 L757.1,377.0 L758.2,376.8 L759.3,376.6 L760.5,376.4 L761.6,376.2 L762.7,376.0 L763.9,375.7 L765.0,375.5 L766.2,375.2 L767.4,375.0 L768.7,374.7 L769.9,374.4 L771.1,374.1 L772.4,373.8 L773.7,373.5 L775.0,373.1 L776.5,372.6 L778.1,372.1 L779.7,371.6 L781.4,371.0 L783.0,370.5 L784.7,369.8 L786.3,369.2 L788.0,368.5 L789.8,367.7 L791.6,366.9 L793.5,365.9 L795.3,365.0 L797.1,364.1 L798.9,363.1 L800.7,362.2 L802.5,361.3 L804.1,360.5 L805.7,359.7 L807.4,358.9 L809.0,358.1 L810.5,357.3 L812.1,356.5 L813.6,355.8 L815.0,355.0 L816.2,354.3 L817.4,353.6 L818.5,352.9 L819.6,352.3 L820.7,351.6 L821.7,351.0 L822.7,350.6 L823.7,350.2 L824.3,350.0 L824.9,349.9 L825.4,349.8 L825.9,349.8 L826.4,349.7 L827.0,349.7 L827.5,349.8 L828.0,349.8 L828.6,349.9 L829.1,350.1 L829.6,350.3 L830.2,350.6 L830.7,350.8 L831.3,351.0 L831.9,351.2 L832.5,351.2 L833.4,351.1 L834.3,350.9 L835.2,350.6 L836.2,350.3 L837.2,349.9 L838.2,349.4 L839.1,349.0 L840.0,348.6 L840.8,348.2 L841.6,347.8 L842.4,347.4 L843.1,347.0 L843.9,346.6 L844.6,346.1 L845.3,345.7 L846.0,345.2 L846.6,344.7 L847.2,344.3 L847.8,343.8 L848.4,343.3 L848.9,342.7 L849.4,342.2 L850.0,341.6 L850.5,341.0 L851.1,340.2 L851.7,339.4 L852.3,338.6 L852.9,337.7 L853.4,336.8 L854.0,335.9 L854.5,335.0 L855.0,334.0 L855.5,332.9 L856.0,331.8 L856.5,330.6 L856.9,329.4 L857.3,328.2 L857.8,327.0 L858.2,325.8 L858.6,324.5 L859.1,323.1 L859.5,321.6 L860.0,320.1 L860.5,318.6 L860.9,317.0 L861.3,315.5 L861.8,314.0 L862.2,312.5 L862.6,311.1 L863.0,309.8 L863.4,308.4 L863.8,307.1 L864.2,305.8 L864.5,304.4 L864.9,303.0 L865.2,301.6 L865.5,300.0 L865.8,298.3 L866.1,296.6 L866.4,294.9 L866.7,293.2 L866.9,291.4 L867.2,289.7 L867.4,288.0 L867.6,286.3 L867.9,284.7 L868.1,283.1 L868.4,281.5 L868.6,279.8 L868.8,278.1 L869.0,276.3 L869.2,274.4 L869.4,271.7 L869.7,268.9 L869.9,265.9 L870.1,262.8 L870.3,259.6 L870.5,256.4 L870.6,253.2 L870.8,250.0 L871.0,246.4 L871.1,242.7 L871.3,239.0 L871.4,235.3 L871.6,231.5 L871.7,227.6 L871.9,223.8 L872.0,220.0 L872.1,216.1 L872.3,212.2 L872.4,208.4 L872.6,204.5 L872.7,200.5 L872.8,196.5 L873.0,192.3 L873.1,188.0 L873.3,182.5 L873.4,176.7 L873.6,170.8 L873.7,164.7 L873.9,158.5 L874.0,152.3 L874.2,146.1 L874.3,140.0 L874.4,133.7 L874.6,127.4 L874.7,121.1 L874.9,114.7 L875.0,108.3 L875.1,101.9 L875.3,95.6 L875.4,89.2"/>
<path stroke="#3a449c" d="M741.2,395.3 L741.5,394.8 L741.8,394.3 L742.1,393.8 L742.4,393.2 L742.7,392.7 L742.9,392.2 L743.2,391.7 L743.5,391.2 L743.8,390.7 L744.0,390.2 L744.2,389.8 L744.5,389.3 L744.7,388.8 L745.0,388.4 L745.2,387.9 L745.5,387.5 L745.8,387.1 L746.0,386.7 L746.3,386.4 L746.6,386.0 L746.9,385.7 L747.2,385.3 L747.6,385.1 L748.0,384.8 L748.6,384.5 L749.4,384.3 L750.1,384.1 L751.0,384.0 L751.9,383.9 L752.8,383.8 L753.9,383.7 L755.0,383.6 L757.4,383.4 L760.2,383.3 L763.4,383.3 L766.7,383.2 L770.2,383.2 L773.6,383.2 L776.9,383.1 L780.0,383.0 L782.6,382.9 L785.2,382.8 L787.7,382.6 L790.1,382.5 L792.6,382.4 L795.1,382.2 L797.5,382.0 L800.0,381.8 L802.5,381.6 L804.9,381.3 L807.3,381.0 L809.7,380.7 L812.2,380.4 L814.7,380.1 L817.3,379.8 L820.0,379.6 L823.5,379.4 L827.2,379.2 L831.1,379.0 L835.0,378.9 L838.9,378.7 L842.8,378.6 L846.5,378.4 L850.0,378.2 L852.7,378.0 L855.3,377.7 L857.8,377.5 L860.3,377.2 L862.7,377.0 L865.1,376.7 L867.5,376.4 L870.0,376.2 L872.5,376.0 L875.1,375.8 L877.6,375.5 L880.2,375.3 L882.7,375.1 L885.2,375.0 L887.6,374.8 L890.0,374.6 L892.0,374.5 L893.8,374.3 L895.6,374.2 L897.4,374.1 L899.2,374.0 L901.1,373.8 L903.0,373.7 L905.0,373.6 L907.6,373.4 L910.5,373.3 L913.4,373.2 L916.4,373.0 L919.3,372.9 L922.2,372.7 L925.0,372.5 L927.5,372.3 L929.2,372.1 L930.9,372.0 L932.5,371.8 L934.1,371.6 L935.6,371.5 L937.1,371.3 L938.5,371.0 L940.0,370.8 L941.3,370.6 L942.6,370.3 L943.8,370.1 L945.1,369.8 L946.3,369.6 L947.5,369.3 L948.8,368.9 L950.0,368.6 L951.3,368.2 L952.5,367.8 L953.7,367.3 L955.0,366.8 L956.2,366.3 L957.5,365.8 L958.7,365.3 L960.0,364.9 L961.4,364.5 L962.7,364.1 L964.1,363.8 L965.5,363.5 L967.0,363.2 L968.4,362.9 L969.8,362.6 L971.2,362.3 L972.6,362.0 L974.1,361.8 L975.6,361.6 L977.0,361.3 L978.5,361.1 L979.8,360.8 L981.1,360.6 L982.3,360.2 L983.1,359.9 L983.8,359.6 L984.5,359.3 L985.1,359.0 L985.8,358.7 L986.4,358.3 L986.9,357.9 L987.5,357.5 L988.0,357.1 L988.5,356.6 L988.9,356.1 L989.4,355.6 L989.8,355.1 L990.2,354.6 L990.6,354.0 L991.0,353.4 L991.5,352.7 L991.9,351.9 L992.4,351.1 L992.8,350.3 L993.3,349.4 L993.7,348.6 L994.1,347.8 L994.5,347.0 L994.8,346.3 L995.2,345.7 L995.5,345.1 L995.8,344.5 L996.1,343.8 L996.4,343.2 L996.7,342.5 L997.0,341.7 L997.5,340.5 L998.1,339.2 L998.6,337.8 L999.2,336.4 L999.8,334.9 L1000.3,333.3 L1000.8,331.7 L1001.3,330.0 L1001.8,327.8 L1002.2,325.4 L1002.6,322.9 L1002.9,320.4 L1003.2,317.8 L1003.4,315.1 L1003.7,312.5 L1004.0,310.0 L1004.3,307.5 L1004.6,305.0 L1004.9,302.5 L1005.2,300.0 L1005.5,297.5 L1005.7,295.0 L1006.0,292.5 L1006.3,290.0 L1006.6,287.5 L1006.8,285.1 L1007.1,282.7 L1007.4,280.4 L1007.6,277.9 L1007.9,275.4 L1008.2,272.8 L1008.4,270.0 L1008.7,266.1 L1009.0,261.9 L1009.3,257.6 L1009.5,253.1 L1009.8,248.6 L1010.1,244.0 L1010.3,239.4 L1010.6,235.0 L1010.9,230.7 L1011.1,226.4 L1011.4,222.2 L1011.6,218.0 L1011.9,213.7 L1012.1,209.3 L1012.4,204.8 L1012.7,200.0 L1013.1,193.7 L1013.5,187.1 L1014.0,180.3 L1014.5,173.3 L1015.0,166.2 L1015.5,159.1 L1016.0,152.0 L1016.5,145.0 L1017.0,138.0 L1017.6,131.1 L1018.1,124.1 L1018.7,117.1 L1019.3,110.1 L1019.9,103.2 L1020.4,96.2 L1021.0,89.2"/>
<path stroke="#1f7f7a" d="M739.0,388.0 L739.1,387.5 L739.2,386.9 L739.2,386.4 L739.3,385.8 L739.4,385.3 L739.5,384.8 L739.7,384.4 L740.0,384.0 L740.4,383.7 L740.8,383.4 L741.3,383.3 L741.9,383.1 L742.5,383.1 L743.3,383.0 L744.1,382.9 L745.0,382.8 L749.1,382.5 L754.9,382.4 L761.8,382.5 L769.6,382.6 L777.7,382.7 L785.7,382.8 L793.3,382.9 L800.0,382.8 L804.9,382.7 L809.6,382.5 L814.3,382.3 L818.9,382.2 L823.3,381.9 L827.5,381.7 L831.4,381.5 L835.0,381.2 L837.2,381.0 L839.2,380.8 L841.1,380.6 L842.9,380.4 L844.7,380.2 L846.4,380.0 L848.2,379.8 L850.0,379.6 L851.8,379.4 L853.6,379.2 L855.3,379.1 L857.1,378.9 L858.9,378.7 L860.8,378.6 L862.8,378.4 L865.0,378.3 L868.7,378.1 L872.7,378.0 L876.9,377.9 L881.4,377.8 L886.1,377.7 L890.7,377.7 L895.4,377.6 L900.0,377.5 L905.0,377.4 L910.1,377.3 L915.4,377.2 L920.7,377.1 L925.9,377.0 L930.9,376.9 L935.6,376.8 L940.0,376.6 L942.8,376.5 L945.3,376.3 L947.7,376.1 L950.0,375.9 L952.3,375.8 L954.7,375.6 L957.2,375.4 L960.0,375.3 L964.4,375.2 L969.2,375.1 L974.2,375.0 L979.5,375.0 L984.8,374.9 L990.1,374.9 L995.2,374.8 L1000.0,374.7 L1004.0,374.6 L1007.9,374.5 L1011.7,374.4 L1015.4,374.2 L1019.1,374.1 L1022.8,373.9 L1026.4,373.8 L1030.0,373.6 L1033.2,373.4 L1036.4,373.3 L1039.5,373.1 L1042.6,372.9 L1045.7,372.7 L1048.8,372.5 L1051.9,372.2 L1055.0,372.0 L1058.1,371.7 L1061.3,371.5 L1064.4,371.2 L1067.5,370.9 L1070.6,370.6 L1073.8,370.3 L1076.9,370.0 L1080.0,369.6 L1083.2,369.2 L1086.5,368.8 L1089.8,368.3 L1093.1,367.8 L1096.3,367.3 L1099.4,366.9 L1102.3,366.4 L1105.0,366.0 L1106.7,365.7 L1108.2,365.5 L1109.7,365.2 L1111.1,364.9 L1112.5,364.7 L1113.9,364.5 L1115.4,364.2 L1117.0,364.0 L1119.1,363.7 L1121.3,363.5 L1123.5,363.3 L1125.9,363.0 L1128.2,362.8 L1130.5,362.6 L1132.8,362.5 L1135.0,362.3 L1137.0,362.2 L1139.0,362.1 L1141.0,362.0 L1142.9,361.9 L1144.9,361.8 L1146.7,361.7 L1148.4,361.6 L1150.0,361.5 L1151.0,361.4 L1152.0,361.3 L1152.9,361.3 L1153.7,361.2 L1154.6,361.1 L1155.4,360.9 L1156.2,360.7 L1157.0,360.5 L1157.8,360.2 L1158.6,359.9 L1159.4,359.5 L1160.1,359.1 L1160.9,358.6 L1161.6,358.1 L1162.3,357.6 L1163.0,357.0 L1163.7,356.3 L1164.4,355.5 L1165.0,354.7 L1165.7,353.8 L1166.3,352.9 L1166.9,351.9 L1167.4,351.0 L1168.0,350.0 L1168.6,349.0 L1169.2,347.9 L1169.7,346.8 L1170.3,345.7 L1170.8,344.6 L1171.3,343.4 L1171.8,342.2 L1172.3,341.0 L1172.8,339.5 L1173.3,338.0 L1173.8,336.4 L1174.3,334.8 L1174.7,333.1 L1175.1,331.4 L1175.6,329.7 L1176.0,328.0 L1176.5,326.0 L1177.0,324.0 L1177.5,321.9 L1178.0,319.8 L1178.4,317.6 L1178.9,315.4 L1179.3,313.2 L1179.7,311.0 L1180.1,308.5 L1180.5,306.0 L1180.9,303.5 L1181.2,301.0 L1181.5,298.4 L1181.9,295.7 L1182.2,292.9 L1182.5,290.0 L1182.9,286.1 L1183.3,282.1 L1183.6,277.9 L1184.0,273.6 L1184.3,269.1 L1184.7,264.5 L1185.1,259.8 L1185.5,255.0 L1186.0,248.8 L1186.6,242.4 L1187.2,235.7 L1187.8,228.9 L1188.5,221.9 L1189.1,214.8 L1189.8,207.5 L1190.4,200.0 L1191.2,190.5 L1192.1,180.2 L1193.0,169.4 L1193.8,158.6 L1194.7,147.9 L1195.6,137.7 L1196.4,128.3 L1197.1,120.0 L1197.5,115.5 L1197.9,111.3 L1198.3,107.4 L1198.7,103.7 L1199.0,100.1 L1199.4,96.6 L1199.7,93.0 L1200.1,89.2"/>
<path stroke="#b43c9e" d="M739.0,388.0 L739.0,387.6 L739.1,387.2 L739.1,386.8 L739.1,386.4 L739.1,386.0 L739.2,385.6 L739.3,385.3 L739.5,385.0 L739.8,384.7 L740.0,384.5 L740.4,384.3 L740.8,384.1 L741.2,384.0 L741.7,383.9 L742.3,383.7 L743.0,383.6 L746.8,383.2 L752.2,383.0 L758.9,383.0 L766.6,383.1 L774.9,383.3 L783.5,383.5 L791.9,383.6 L800.0,383.6 L809.5,383.5 L819.5,383.4 L829.8,383.3 L840.3,383.2 L850.8,383.0 L861.0,382.9 L870.8,382.7 L880.0,382.6 L887.0,382.5 L894.1,382.4 L901.0,382.3 L907.8,382.3 L914.2,382.2 L920.1,382.1 L925.4,381.9 L930.0,381.8 L932.0,381.7 L933.9,381.7 L935.5,381.6 L937.1,381.6 L938.6,381.5 L940.0,381.4 L941.4,381.2 L942.9,381.0 L944.2,380.7 L945.4,380.4 L946.7,380.1 L947.9,379.7 L949.1,379.3 L950.2,378.9 L951.4,378.6 L952.5,378.3 L953.4,378.1 L954.3,377.9 L955.1,377.7 L955.9,377.5 L956.8,377.4 L957.7,377.3 L958.8,377.1 L960.0,377.0 L963.5,376.8 L967.8,376.6 L972.7,376.6 L978.0,376.6 L983.6,376.6 L989.3,376.6 L994.8,376.6 L1000.0,376.6 L1005.0,376.6 L1010.0,376.6 L1015.0,376.6 L1020.0,376.6 L1025.0,376.6 L1030.0,376.5 L1035.0,376.4 L1040.0,376.2 L1045.2,375.9 L1050.6,375.6 L1056.0,375.3 L1061.5,374.9 L1066.7,374.5 L1071.7,374.0 L1076.1,373.5 L1080.0,373.0 L1081.8,372.7 L1083.5,372.4 L1085.0,372.0 L1086.4,371.7 L1087.8,371.3 L1089.1,371.0 L1090.5,370.7 L1092.0,370.4 L1093.6,370.1 L1095.2,369.9 L1096.9,369.7 L1098.6,369.5 L1100.2,369.3 L1101.9,369.2 L1103.5,368.9 L1105.0,368.7 L1106.3,368.5 L1107.6,368.2 L1108.9,368.0 L1110.1,367.7 L1111.3,367.5 L1112.5,367.2 L1113.8,366.9 L1115.0,366.6 L1116.2,366.2 L1117.5,365.9 L1118.7,365.4 L1119.9,365.0 L1121.1,364.6 L1122.3,364.2 L1123.6,363.8 L1125.0,363.5 L1126.8,363.2 L1128.6,363.0 L1130.6,362.8 L1132.6,362.7 L1134.6,362.5 L1136.5,362.4 L1138.3,362.3 L1140.0,362.1 L1141.1,362.0 L1142.2,361.8 L1143.3,361.7 L1144.3,361.6 L1145.3,361.5 L1146.2,361.3 L1147.1,361.1 L1148.0,360.8 L1148.7,360.5 L1149.4,360.3 L1150.0,360.0 L1150.7,359.6 L1151.3,359.3 L1151.9,358.9 L1152.5,358.5 L1153.0,358.0 L1153.6,357.4 L1154.1,356.8 L1154.6,356.1 L1155.1,355.3 L1155.6,354.5 L1156.1,353.7 L1156.5,352.9 L1157.0,352.0 L1157.6,350.8 L1158.2,349.5 L1158.7,348.2 L1159.3,346.8 L1159.8,345.4 L1160.4,343.9 L1160.9,342.4 L1161.5,341.0 L1162.1,339.4 L1162.8,337.9 L1163.4,336.3 L1164.1,334.7 L1164.7,333.1 L1165.3,331.4 L1165.9,329.7 L1166.5,328.0 L1167.1,326.0 L1167.7,324.0 L1168.2,321.9 L1168.8,319.8 L1169.3,317.6 L1169.8,315.4 L1170.3,313.2 L1170.8,311.0 L1171.3,308.5 L1171.9,306.0 L1172.4,303.5 L1172.9,301.0 L1173.4,298.4 L1173.9,295.7 L1174.4,292.9 L1174.8,290.0 L1175.3,286.1 L1175.8,282.1 L1176.3,277.9 L1176.7,273.6 L1177.1,269.1 L1177.5,264.5 L1177.9,259.8 L1178.3,255.0 L1178.8,248.8 L1179.3,242.4 L1179.8,235.7 L1180.2,228.9 L1180.7,221.9 L1181.1,214.8 L1181.6,207.5 L1182.1,200.0 L1182.7,190.5 L1183.4,180.2 L1184.0,169.4 L1184.7,158.6 L1185.3,147.9 L1186.0,137.7 L1186.5,128.3 L1187.1,120.0 L1187.4,115.5 L1187.7,111.3 L1188.0,107.4 L1188.3,103.7 L1188.6,100.1 L1188.8,96.6 L1189.1,93.0 L1189.4,89.2"/>
<path stroke="#7d7a32" d="M738.8,389.0 L738.8,388.5 L738.9,388.1 L738.9,387.6 L738.9,387.1 L738.9,386.7 L739.0,386.2 L739.1,385.8 L739.3,385.5 L739.5,385.2 L739.8,385.0 L740.0,384.8 L740.3,384.6 L740.7,384.4 L741.1,384.3 L741.5,384.1 L742.0,384.0 L743.4,383.8 L745.2,383.6 L747.2,383.6 L749.5,383.7 L752.0,383.8 L754.6,383.9 L757.3,384.0 L760.0,384.0 L764.2,384.0 L768.6,384.0 L773.2,384.0 L778.2,384.0 L783.3,384.0 L788.7,384.0 L794.2,384.0 L800.0,384.0 L808.8,383.9 L818.5,383.8 L828.8,383.7 L839.5,383.6 L850.2,383.4 L860.7,383.3 L870.7,383.1 L880.0,383.0 L887.0,382.9 L894.1,382.8 L901.0,382.7 L907.8,382.6 L914.2,382.6 L920.1,382.5 L925.4,382.3 L930.0,382.2 L932.0,382.1 L933.9,382.1 L935.5,382.1 L937.1,382.0 L938.6,382.0 L940.0,381.9 L941.4,381.7 L942.9,381.5 L944.2,381.2 L945.4,380.9 L946.7,380.6 L947.9,380.2 L949.1,379.8 L950.2,379.4 L951.4,379.1 L952.5,378.8 L953.4,378.6 L954.3,378.4 L955.1,378.2 L955.9,378.0 L956.8,377.8 L957.7,377.7 L958.8,377.5 L960.0,377.4 L963.5,377.2 L967.8,377.0 L972.7,376.9 L978.0,376.9 L983.6,376.9 L989.3,376.9 L994.8,376.9 L1000.0,376.9 L1005.0,376.9 L1010.0,376.9 L1015.0,376.9 L1020.0,376.9 L1025.0,376.9 L1030.0,376.8 L1035.0,376.7 L1040.0,376.5 L1045.2,376.2 L1050.6,375.9 L1056.0,375.6 L1061.5,375.2 L1066.7,374.8 L1071.7,374.3 L1076.1,373.8 L1080.0,373.3 L1081.8,373.0 L1083.5,372.7 L1085.0,372.3 L1086.4,372.0 L1087.8,371.6 L1089.1,371.3 L1090.5,371.0 L1092.0,370.7 L1093.6,370.4 L1095.2,370.2 L1096.9,370.0 L1098.6,369.8 L1100.2,369.6 L1101.9,369.5 L1103.5,369.2 L1105.0,369.0 L1106.3,368.8 L1107.6,368.5 L1108.9,368.3 L1110.1,368.0 L1111.3,367.8 L1112.5,367.5 L1113.8,367.2 L1115.0,366.9 L1116.2,366.5 L1117.5,366.2 L1118.7,365.7 L1119.9,365.3 L1121.1,364.9 L1122.3,364.5 L1123.6,364.1 L1125.0,363.8 L1126.7,363.5 L1128.6,363.3 L1130.5,363.1 L1132.5,362.9 L1134.5,362.8 L1136.4,362.6 L1138.2,362.5 L1140.0,362.4 L1141.4,362.3 L1142.7,362.3 L1144.1,362.3 L1145.3,362.2 L1146.6,362.2 L1147.8,362.2 L1148.9,362.1 L1150.0,361.9 L1150.7,361.8 L1151.4,361.6 L1152.1,361.5 L1152.7,361.3 L1153.3,361.1 L1153.9,360.9 L1154.5,360.6 L1155.0,360.3 L1155.5,360.0 L1156.0,359.6 L1156.4,359.3 L1156.9,358.9 L1157.3,358.5 L1157.7,358.0 L1158.1,357.5 L1158.5,357.0 L1159.0,356.3 L1159.5,355.5 L1159.9,354.7 L1160.3,353.8 L1160.7,352.9 L1161.2,351.9 L1161.6,351.0 L1162.0,350.0 L1162.5,348.8 L1163.0,347.7 L1163.5,346.4 L1164.0,345.2 L1164.5,343.9 L1165.0,342.6 L1165.5,341.3 L1166.0,340.0 L1166.6,338.6 L1167.1,337.1 L1167.7,335.7 L1168.3,334.2 L1168.9,332.7 L1169.4,331.2 L1170.0,329.6 L1170.5,328.0 L1171.1,326.0 L1171.7,324.0 L1172.3,321.9 L1172.9,319.8 L1173.4,317.7 L1174.0,315.5 L1174.5,313.2 L1175.0,311.0 L1175.6,308.5 L1176.1,306.0 L1176.6,303.5 L1177.1,301.0 L1177.6,298.4 L1178.1,295.7 L1178.6,292.9 L1179.0,290.0 L1179.5,286.1 L1180.0,282.1 L1180.5,277.9 L1180.9,273.6 L1181.3,269.1 L1181.7,264.5 L1182.1,259.8 L1182.5,255.0 L1183.0,248.8 L1183.5,242.4 L1184.0,235.7 L1184.5,228.9 L1185.0,221.9 L1185.5,214.8 L1186.0,207.5 L1186.5,200.0 L1187.2,190.5 L1187.9,180.2 L1188.6,169.4 L1189.4,158.6 L1190.1,147.9 L1190.8,137.7 L1191.5,128.3 L1192.0,120.0 L1192.3,115.5 L1192.5,111.3 L1192.8,107.4 L1193.0,103.7 L1193.2,100.1 L1193.4,96.6 L1193.6,93.0 L1193.8,89.2"/>
</g>
<g font-family="Liberation Sans, Arial, sans-serif" font-weight="bold" font-size="18" fill="#333" stroke="#333" stroke-width="0.55">
<text x="740.0" y="436" text-anchor="middle">0</text>
<text x="814.4" y="436" text-anchor="middle">50</text>
<text x="888.8" y="436" text-anchor="middle">100</text>
<text x="963.2" y="436" text-anchor="middle">150</text>
<text x="1037.6" y="436" text-anchor="middle">200</text>
<text x="1112.0" y="436" text-anchor="middle">250</text>
<text x="1186.4" y="436" text-anchor="middle">300</text>
<text x="1260.8" y="436" text-anchor="middle">350</text>
<text x="711.8" y="404.4" text-anchor="end">0.0</text>
<text x="711.8" y="326.9" text-anchor="end">0.5</text>
<text x="711.8" y="249.5" text-anchor="end">1.0</text>
<text x="711.8" y="172.0" text-anchor="end">1.5</text>
<text x="711.8" y="94.6" text-anchor="end">2.0</text>
<text x="711.8" y="17.1" text-anchor="end">2.5</text>
</g>
<line x1="479" y1="48.5" x2="524" y2="48.5" stroke="#d42a35" stroke-width="4.4" stroke-linecap="round"/>
<text x="529.3" y="55.8" font-family="Liberation Sans, Arial, sans-serif" font-size="20.5" fill="#474747" stroke="#474747" stroke-width="0.6">LiBOB</text>
<line x1="479" y1="73.4" x2="524" y2="73.4" stroke="#3a449c" stroke-width="4.4" stroke-linecap="round"/>
<text x="529.3" y="80.7" font-family="Liberation Sans, Arial, sans-serif" font-size="20.5" fill="#474747" stroke="#474747" stroke-width="0.6">LiDFOB</text>
<line x1="479" y1="98.3" x2="524" y2="98.3" stroke="#1c1c1c" stroke-width="4.4" stroke-linecap="round"/>
<text x="529.3" y="105.6" font-family="Liberation Sans, Arial, sans-serif" font-size="20.5" fill="#474747" stroke="#474747" stroke-width="0.6">LiBF4</text>
<line x1="479" y1="123.2" x2="524" y2="123.2" stroke="#1f7f7a" stroke-width="4.4" stroke-linecap="round"/>
<text x="529.3" y="130.5" font-family="Liberation Sans, Arial, sans-serif" font-size="20.5" fill="#474747" stroke="#474747" stroke-width="0.6">LiPF6</text>
<line x1="479" y1="148.1" x2="524" y2="148.1" stroke="#b43c9e" stroke-width="4.4" stroke-linecap="round"/>
<text x="529.3" y="155.4" font-family="Liberation Sans, Arial, sans-serif" font-size="20.5" fill="#474747" stroke="#474747" stroke-width="0.6">LiTFSI</text>
<line x1="479" y1="173.0" x2="524" y2="173.0" stroke="#7d7a32" stroke-width="4.4" stroke-linecap="round"/>
<text x="529.3" y="180.3" font-family="Liberation Sans, Arial, sans-serif" font-size="20.5" fill="#474747" stroke="#474747" stroke-width="0.6">LiFSI</text>
<line x1="732.5" y1="32.4" x2="774.5" y2="32.4" stroke="#d42a35" stroke-width="4.4" stroke-linecap="round"/>
<text x="779.8" y="39.7" font-family="Liberation Sans, Arial, sans-serif" font-size="19.8" fill="#474747" stroke="#474747" stroke-width="0.6">LiBOB</text>
<line x1="732.5" y1="56.5" x2="774.5" y2="56.5" stroke="#3a449c" stroke-width="4.4" stroke-linecap="round"/>
<text x="779.8" y="63.8" font-family="Liberation Sans, Arial, sans-serif" font-size="19.8" fill="#474747" stroke="#474747" stroke-width="0.6">LiDFOB</text>
<line x1="732.5" y1="80.6" x2="774.5" y2="80.6" stroke="#1c1c1c" stroke-width="4.4" stroke-linecap="round"/>
<text x="779.8" y="87.9" font-family="Liberation Sans, Arial, sans-serif" font-size="19.8" fill="#474747" stroke="#474747" stroke-width="0.6">LiBF4</text>
<line x1="732.5" y1="104.7" x2="774.5" y2="104.7" stroke="#1f7f7a" stroke-width="4.4" stroke-linecap="round"/>
<text x="779.8" y="112.0" font-family="Liberation Sans, Arial, sans-serif" font-size="19.8" fill="#474747" stroke="#474747" stroke-width="0.6">LiPF6</text>
<line x1="732.5" y1="128.8" x2="774.5" y2="128.8" stroke="#b43c9e" stroke-width="4.4" stroke-linecap="round"/>
<text x="779.8" y="136.1" font-family="Liberation Sans, Arial, sans-serif" font-size="19.8" fill="#474747" stroke="#474747" stroke-width="0.6">LiTFSI</text>
<line x1="732.5" y1="152.9" x2="774.5" y2="152.9" stroke="#7d7a32" stroke-width="4.4" stroke-linecap="round"/>
<text x="779.8" y="160.2" font-family="Liberation Sans, Arial, sans-serif" font-size="19.8" fill="#474747" stroke="#474747" stroke-width="0.6">LiFSI</text>
<text transform="translate(329.6,467.6) scale(1.087,1)" text-anchor="middle" font-size="20.9" stroke="#333" stroke-width="0.3" font-family="Liberation Serif, Times New Roman, serif" font-weight="bold" fill="#333">capacity(mAh/g)</text>
<text transform="translate(993.3,472) scale(1.087,1)" text-anchor="middle" font-size="20.9" stroke="#333" stroke-width="0.3" font-family="Liberation Serif, Times New Roman, serif" font-weight="bold" fill="#333">capacity(mAh/g)</text>
<text transform="translate(20.3,200.3) rotate(-90)" text-anchor="middle" font-size="21.4" font-family="Liberation Serif, Times New Roman, serif" font-weight="bold" fill="#333">potential(V)</text>
<text transform="translate(660,205.7) rotate(-90)" text-anchor="middle" font-size="23.2" font-family="Liberation Serif, Times New Roman, serif" font-weight="bold" fill="#333">potential(V)</text>
<text x="14.6" y="461.6" font-family="Liberation Sans, Arial, sans-serif" font-size="23.5" fill="#3a3a3a" stroke="#3a3a3a" stroke-width="0.35">(a)</text>
<text x="674.2" y="460.9" font-family="Liberation Sans, Arial, sans-serif" font-size="23.5" fill="#3a3a3a" stroke="#3a3a3a" stroke-width="0.35">(b)</text>
</svg>
</body></html>
